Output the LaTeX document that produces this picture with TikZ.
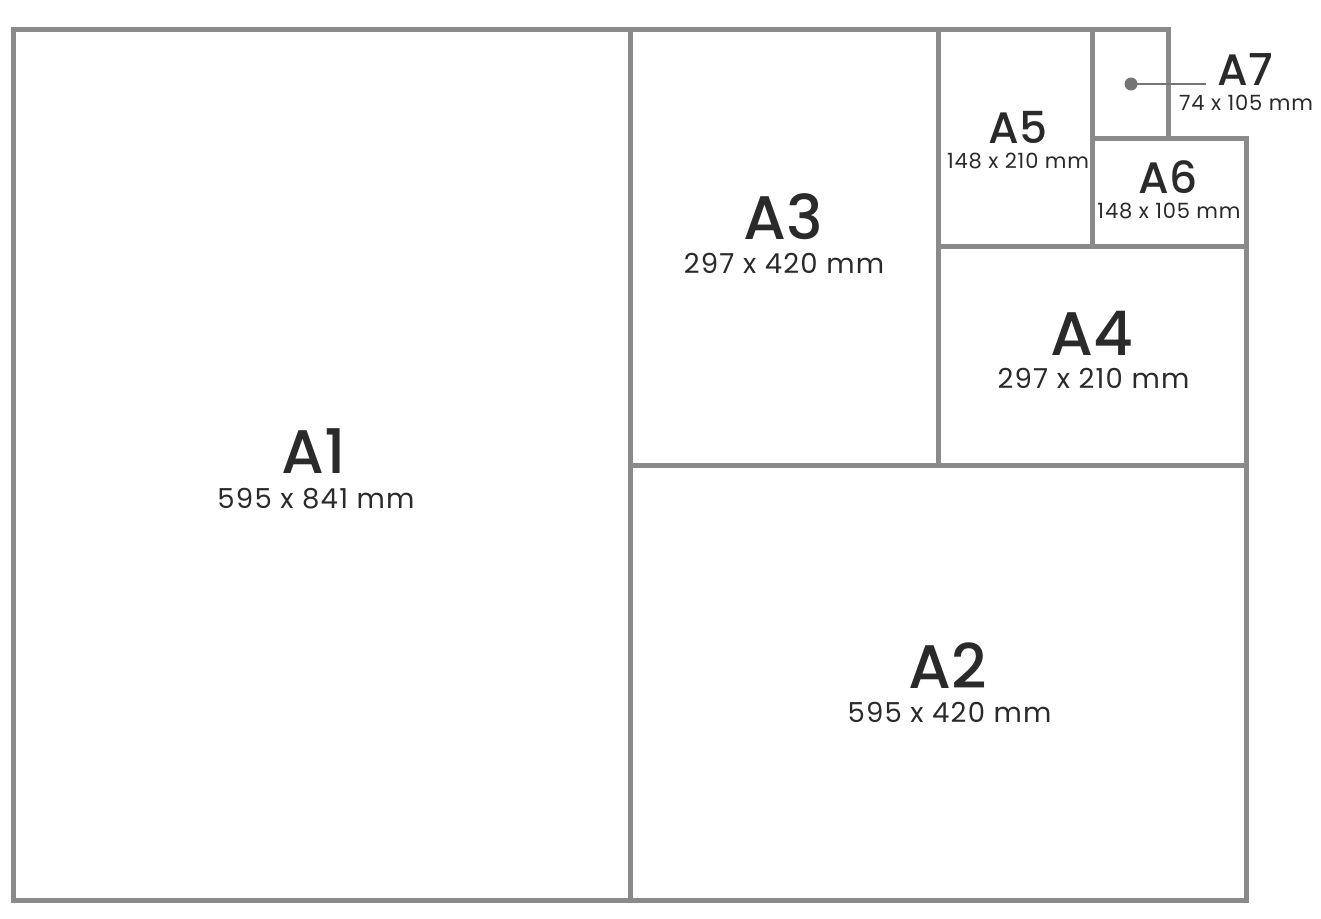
\documentclass[tikz,border=0pt]{standalone}
\usepackage{fontspec}
\setmainfont{Poppins}
\newfontfamily\titlefont{Poppins Medium}
\newfontfamily\subfont{Poppins}[LetterSpace=4.5]
\newfontfamily\smallsubfont{Poppins}[LetterSpace=4]
\begin{document}
\begin{tikzpicture}[x=1pt,y=-1pt,
  sheet/.style={draw=linegray,line width=5pt,line join=miter},
  bigtitle/.style={anchor=base,inner sep=0pt,text depth=0pt,text=textdark,font=\titlefont\fontsize{61.5}{62}\selectfont},
  bigsub/.style={anchor=base,inner sep=0pt,text=textdark,font=\subfont\fontsize{27.5}{28}\selectfont},
  smalltitle/.style={anchor=base,inner sep=0pt,text depth=0pt,text=textdark,font=\titlefont\fontsize{44}{45}\selectfont},
  smallsub/.style={anchor=base,inner sep=0pt,text=textdark,font=\smallsubfont\fontsize{21}{22}\selectfont}]
\definecolor{linegray}{HTML}{8A8A8A}
\definecolor{textdark}{HTML}{2A2A2A}
\useasboundingbox[fill=white] (0,0) rectangle (1321,918);
% sheets
\draw[sheet] (13.5,29) rectangle (630,900);
\draw[sheet] (630,465) rectangle (1246,900);
\draw[sheet] (630,29) rectangle (938,465);
\draw[sheet] (938,246) rectangle (1246,465);
\draw[sheet] (938,29) rectangle (1092,246);
\draw[sheet] (1092,138) rectangle (1246,246);
\draw[sheet] (1092,29) rectangle (1168,138);
% labels
\node[bigtitle] (a1) at (314,473) {A1};
\node[bigsub] (a1s) at (316,508) {595 x 841 mm};
\node[bigtitle] (a2) at (947.5,688) {A2};
\node[bigsub] (a2s) at (949.5,722) {595 x 420 mm};
\node[bigtitle] (a3) at (783,239) {A3};
\node[bigsub] (a3s) at (784,273) {297 x 420 mm};
\node[bigtitle] (a4) at (1092,355) {A4};
\node[bigsub] (a4s) at (1093.5,388) {297 x 210 mm};
\node[smalltitle] (a5) at (1018,143) {A5};
\node[smallsub] (a5s) at (1018,168.5) {148 x 210 mm};
\node[smalltitle] (a6) at (1168,193) {A6};
\node[smallsub] (a6s) at (1169,218.5) {148 x 105 mm};
\node[smalltitle] (a7) at (1245,85) {A7};
\node[smallsub] (a7s) at (1246,110) {74 x 105 mm};
% A7 pointer
\coordinate (dot) at (1131,84);
\coordinate (lineend) at (1206,84);
\draw[linegray!85!black,line width=1.5pt] (dot) -- (lineend);
\fill[linegray!85!black] (dot) circle (6.5);
\end{tikzpicture}
\end{document}
